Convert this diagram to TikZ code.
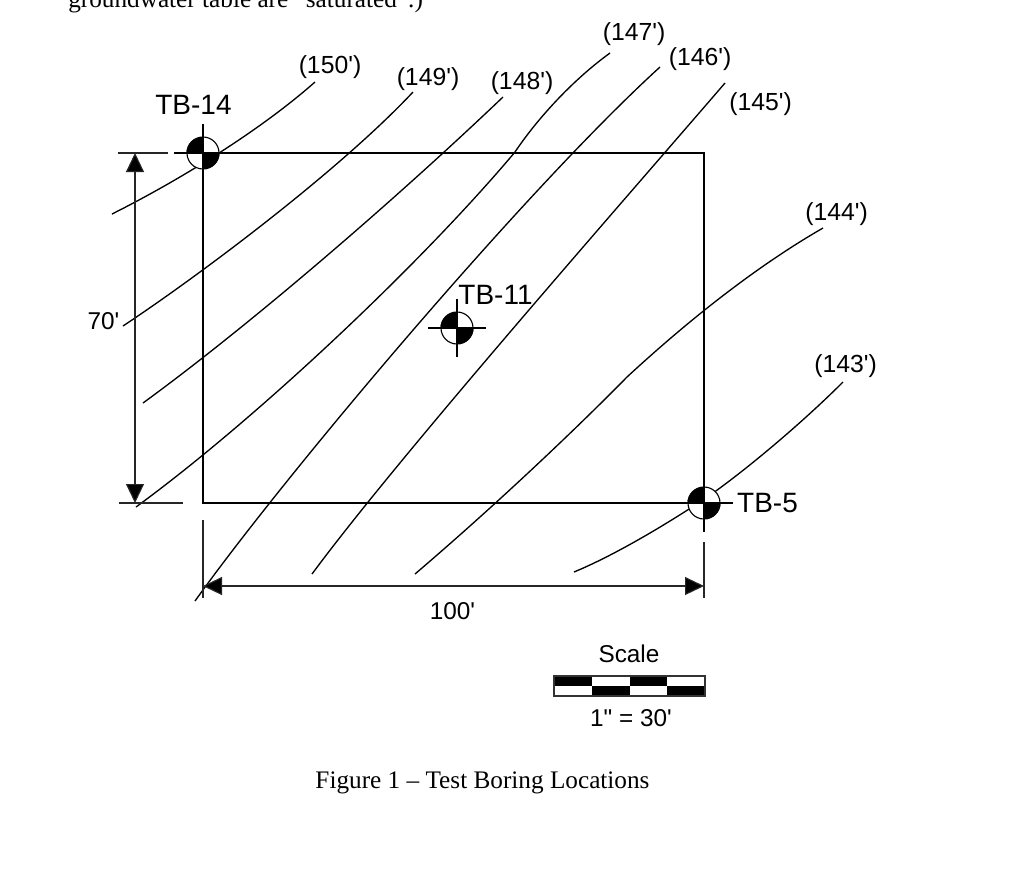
\documentclass[tikz,border=0pt]{standalone}
\usepackage{fontspec}
\setmainfont{Liberation Sans}[Ligatures=TeXOff]
\newfontfamily\serifcap{Liberation Serif}
\usetikzlibrary{arrows.meta}
\usetikzlibrary{calc}

\tikzset{
  site/.style={line width=1.7pt},
  contour/.style={line width=0.95pt},
  dimline/.style={line width=0.8pt,draw=black!85},
  dimarrow/.style={dimline,{Triangle[length=0.475cm,width=0.45cm,fill=black]}-{Triangle[length=0.475cm,width=0.45cm,fill=black]}},
  bore/.style={circle,draw,fill=white,line width=0.8pt,minimum size=0.8cm,inner sep=0pt},
  elev/.style={inner sep=0pt,font=\fontsize{17.6}{20}\selectfont},
  tag/.style={inner sep=0pt,font=\fontsize{19.9}{22}\selectfont},
  dimtext/.style={inner sep=0pt,font=\fontsize{17.3}{20}\selectfont},
  captext/.style={inner sep=0pt,font=\serifcap\fontsize{17.95}{20}\selectfont}
}
% boring symbol: name, position
\newcommand{\boring}[2]{
  \node[bore] (#1) at (#2) {};
  \fill (#1.center) -- (#1.west) arc[start angle=180,end angle=90,radius=0.4cm] -- cycle;
  \fill (#1.center) -- (#1.east) arc[start angle=0,end angle=-90,radius=0.4cm] -- cycle;
  \draw[line width=1.2pt] ($(#1.center)+(-29,0)$) -- ($(#1.center)+(29,0)$);
  \draw[line width=1.2pt] ($(#1.center)+(0,-29)$) -- ($(#1.center)+(0,29)$);
}

\begin{document}
\begin{tikzpicture}[x=0.025cm,y=-0.025cm]
\useasboundingbox (0,0) rectangle (1024,877);
\clip (0,0) rectangle (1024,877);
\fill[white] (0,0) rectangle (1024,877);

\node[captext,anchor=base west] (cuttext) at (68,7) {groundwater table are “saturated”.)};

% site
\draw[site] (203,153) rectangle (704,503);

% contours
\draw[contour] (112,214) .. controls (170,185) and (255,135) .. (315,82);
\draw[contour] (123,326) .. controls (200,275) and (340,170) .. (413,92);
\draw[contour] (143,403) .. controls (250,325) and (395,200) .. (503,97);
\draw[contour] (136,507) .. controls (255,420) and (420,265) .. (515,152) .. controls (535,122) and (570,82) .. (610,53);
\draw[contour] (195,601) .. controls (285,475) and (525,190) .. (660,67);
\draw[contour] (312,574) .. controls (400,455) and (620,205) .. (725,83);
\draw[contour] (415,574) .. controls (490,510) and (570,435) .. (627,377) .. controls (680,328) and (750,270) .. (823,228);
\draw[contour] (574,572) .. controls (615,555) and (665,525) .. (703,500) .. controls (740,475) and (800,425) .. (843,382);

% dimensions
\draw[dimline] (118,153) -- (168,153);
\draw[dimline] (119,503) -- (183,503);
\draw[dimarrow] (135,153) -- (135,503);
\draw[dimline] (203,520) -- (203,598);
\draw[dimline] (704,542) -- (704,598);
\draw[dimarrow] (203,586) -- (704,586);

% borings
\boring{tbfourteen}{203,153}
\boring{tbeleven}{457,328}
\boring{tbfive}{704,503}

\node[tag] (lblfourteen) at (193.5,105) {TB-14};
\node[tag] (lbleleven) at (495.5,295) {TB-11};
\node[tag] (lblfive) at (767.5,503) {TB-5};

\node[elev] (el150) at (330,67) {(150')};
\node[elev] (el149) at (428,79) {(149')};
\node[elev] (el148) at (522,83) {(148')};
\node[elev] (el147) at (634,34) {(147')};
\node[elev] (el146) at (700,59) {(146')};
\node[elev] (el145) at (760.5,104) {(145')};
\node[elev] (el144) at (836.5,214) {(144')};
\node[elev] (el143) at (845.5,366) {(143')};

\node[dimtext] (dimwidth) at (452.5,611) {100'};
\node[dimtext] (dimheight) at (103.5,321) {70'};

% scale bar
\foreach \i/\xa/\xb in {0/554/592,1/592/630,2/630/667,3/667/705}{
  \pgfmathparse{int(mod(\i,2))}
  \ifnum\pgfmathresult=0
    \fill (\xa,676) rectangle (\xb,686);
  \else
    \fill (\xa,686) rectangle (\xb,696);
  \fi
}
\draw[line width=0.8pt,draw=black!80] (554,676) rectangle (705,696);
\node[dimtext] (scaletitle) at (629,654) {Scale};
\node[dimtext] (scaleratio) at (631,718) {1" = 30'};

\node[captext] (figcaption) at (482.5,783) {Figure 1 – Test Boring Locations};
\end{tikzpicture}
\end{document}
